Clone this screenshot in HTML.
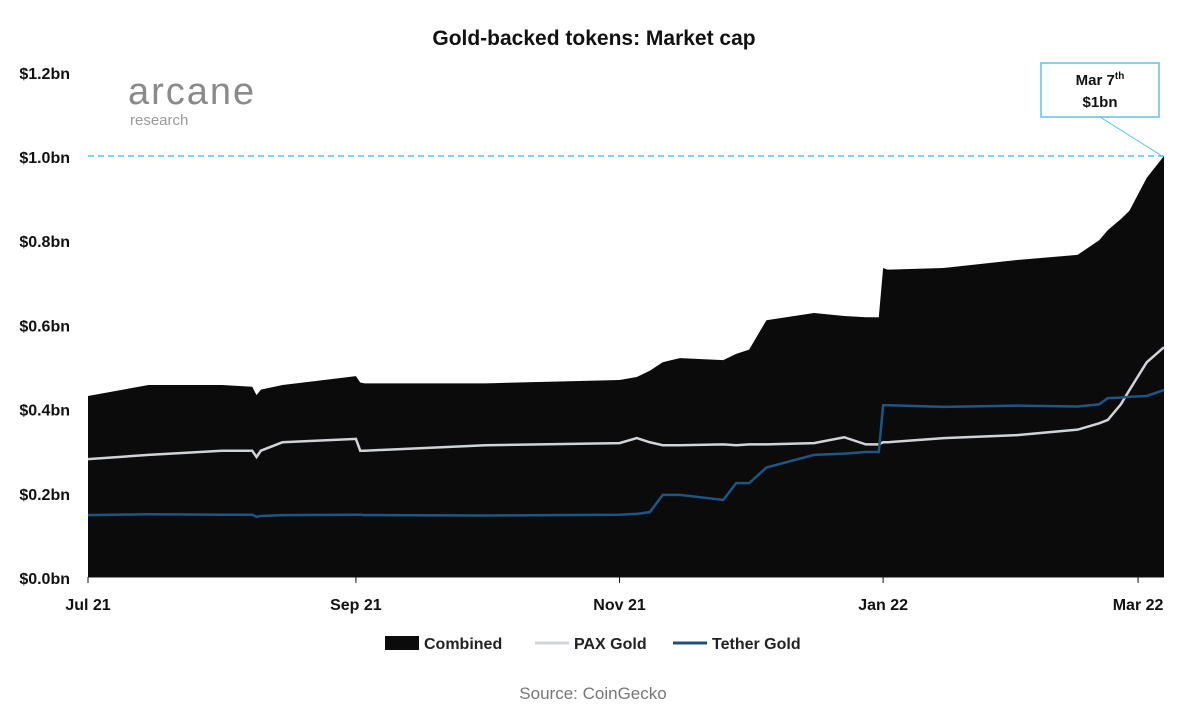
<!DOCTYPE html>
<html><head><meta charset="utf-8"><style>
body{margin:0;background:#fff;font-family:"Liberation Sans",sans-serif;}
svg text{font-family:"Liberation Sans",sans-serif;}
</style></head><body>
<svg id="chart" width="1200" height="715" xmlns="http://www.w3.org/2000/svg">
<text x="594" y="45" text-anchor="middle" font-size="21" font-weight="bold" fill="#111">Gold-backed tokens: Market cap</text>
<g>
<text x="128" y="104" font-size="38" fill="#8a8a8a" letter-spacing="2">arcane</text>
<text x="130" y="125" font-size="15" fill="#9a9a9a">research</text>
</g>
<g id="yaxis"></g>
<g id="plot"></g>
<g id="xaxis"></g>
<g>
<line x1="1100" y1="117" x2="1162" y2="156" stroke="#5bc0e8" stroke-width="1"/>
<rect x="1041" y="63" width="118" height="54" fill="#fff" stroke="#5bc0e8" stroke-width="1.5"/>
<text x="1100" y="85" text-anchor="middle" font-size="15" font-weight="bold" fill="#111">Mar 7<tspan font-size="10" dy="-6">th</tspan></text>
<text x="1100" y="107" text-anchor="middle" font-size="15" font-weight="bold" fill="#111">$1bn</text>
</g>
<g>
<g><rect x="385" y="636" width="34" height="14" fill="#0b0b0c"/><text x="424" y="649" font-size="16" font-weight="bold" fill="#222">Combined</text></g>
<g><line x1="535" y1="643" x2="569" y2="643" stroke="#d0d3d8" stroke-width="3"/><text x="574" y="649" font-size="16" font-weight="bold" fill="#222">PAX Gold</text></g>
<g><line x1="673" y1="643" x2="707" y2="643" stroke="#1f4f7a" stroke-width="3"/><text x="712" y="649" font-size="16" font-weight="bold" fill="#222">Tether Gold</text></g>
</g>
<text x="593" y="699" text-anchor="middle" font-size="17" fill="#777">Source: CoinGecko</text>
</svg>
<script>
const days=[0,14,31,38,39,40,45,62,63,64,92,123,127,130,133,135,137,147,150,153,157,168,175,180,183,184,185,198,215,229,234,236,239,241,245,249];
const combined=[0.43,0.456,0.456,0.452,0.432,0.445,0.456,0.477,0.462,0.46,0.46,0.468,0.475,0.49,0.51,0.515,0.52,0.515,0.53,0.54,0.61,0.627,0.62,0.617,0.617,0.734,0.73,0.734,0.753,0.765,0.80,0.824,0.85,0.87,0.948,1.0];
const pax=[0.28,0.29,0.30,0.30,0.285,0.30,0.32,0.328,0.30,0.30,0.313,0.318,0.33,0.32,0.313,0.313,0.313,0.315,0.313,0.315,0.315,0.318,0.332,0.315,0.315,0.32,0.32,0.33,0.337,0.35,0.365,0.373,0.41,0.444,0.51,0.546];
const tether=[0.147,0.149,0.148,0.148,0.143,0.145,0.147,0.148,0.148,0.147,0.146,0.148,0.15,0.154,0.195,0.195,0.195,0.183,0.223,0.223,0.26,0.29,0.293,0.297,0.297,0.408,0.408,0.404,0.407,0.405,0.41,0.425,0.426,0.428,0.43,0.444];
const yTicks=[0,0.2,0.4,0.6,0.8,1.0,1.2];
const yLabels=["$0.0bn","$0.2bn","$0.4bn","$0.6bn","$0.8bn","$1.0bn","$1.2bn"];
const xTickDays=[0,62,123,184,243];
const xLabels=["Jul 21","Sep 21","Nov 21","Jan 22","Mar 22"];
const NS="http://www.w3.org/2000/svg";
const X=d=>88+d*(1164-88)/249;
const Y=v=>577-v*421;
function mk(t,a,p){const e=document.createElementNS(NS,t);for(const k in a)e.setAttribute(k,a[k]);p.appendChild(e);return e;}
const ya=document.getElementById('yaxis'),pl=document.getElementById('plot'),xa=document.getElementById('xaxis');
yTicks.forEach((v,i)=>{const t=mk('text',{x:70,y:Y(v)+7,'text-anchor':'end','font-size':16,'font-weight':'bold',fill:'#111'},ya);t.textContent=yLabels[i];

});
const ref=mk('line',{x1:88,x2:1164,y1:Y(1.0),y2:Y(1.0),stroke:'#5bc0e8','stroke-width':1.5,'stroke-dasharray':'6,4'},pl);


let d='M'+X(0)+','+Y(0);days.forEach((dd,i)=>d+='L'+X(dd)+','+Y(combined[i]));d+='L'+X(days[days.length-1])+','+Y(0)+'Z';
const area=mk('path',{d:d,fill:'#0b0b0c'},pl);


function line(arr,c,n){const p=mk('path',{d:days.map((dd,i)=>(i?'L':'M')+X(dd)+','+Y(arr[i])).join(''),fill:'none',stroke:c,'stroke-width':2.5},pl);

}
line(pax,'#d0d3d8','pax-gold-line');
line(tether,'#1f5585','tether-gold-line');
mk('line',{x1:88,x2:1164,y1:577,y2:577,stroke:'#111','stroke-width':1},xa);
xTickDays.forEach((dd,i)=>{mk('line',{x1:X(dd),x2:X(dd),y1:577,y2:583,stroke:'#111'},xa);
const t=mk('text',{x:X(dd),y:610,'text-anchor':'middle','font-size':16,'font-weight':'bold',fill:'#111'},xa);t.textContent=xLabels[i];

});
</script>
</body></html>
